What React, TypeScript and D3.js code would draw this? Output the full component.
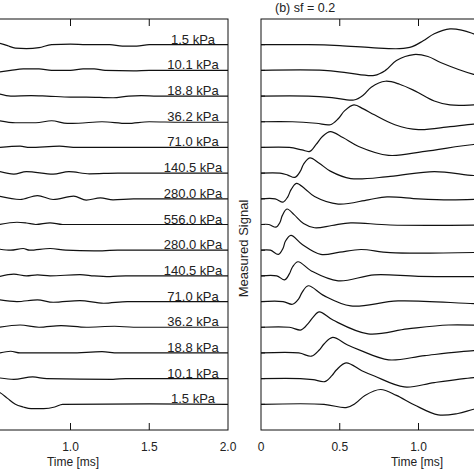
import React from "react";
import * as d3 from "d3";

// ---------- data ----------
const TIME_TICKS = [0, 0.5, 1.0, 1.5, 2.0];
const TICK_LABELS = ["0", "0.5", "1.0", "1.5", "2.0"];
const PRESSURE_LABELS = [
  "1.5 kPa", "10.1 kPa", "18.8 kPa", "36.2 kPa", "71.0 kPa", "140.5 kPa", "280.0 kPa",
  "556.0 kPa", "280.0 kPa", "140.5 kPa", "71.0 kPa", "36.2 kPa", "18.8 kPa", "10.1 kPa", "1.5 kPa",
];
const TRACE_OFFSET = 26; // signal units between stacked traces
const TITLE_B = "(b) sf = 0.2";
const Y_LABEL = "Measured Signal";
const X_LABEL = "Time [ms]";

// panel (a): [time ms, signal a.u.]
const SIGNAL_A: [number, number][][] = [
  [[0.55, 1.5], [0.6, -1], [0.65, -3.5], [0.72, -4], [0.8, -3], [0.88, 0], [1.0, 0.5], [1.1, 0], [1.25, 0], [1.33, -1.5], [1.42, -1.5], [1.5, 0], [2.0, 0]],
  [[0.55, -1.5], [0.62, 0], [0.7, 1.5], [0.8, 1.5], [0.88, 0], [1.0, 0], [1.08, 1.5], [1.15, 1.5], [1.22, 0], [1.4, -0.5], [1.5, 0], [2.0, 0]],
  [[0.55, 2], [0.62, 0], [0.75, 0.5], [0.85, 0], [1.0, -1], [1.1, -1], [1.27, -1.7], [1.37, 0], [1.45, 0.5], [1.55, 0], [2.0, 0]],
  [[0.55, 1], [0.65, -1], [0.78, -1], [0.88, 1], [0.98, -1.7], [1.05, -1.5], [1.2, 0], [1.36, -1.7], [1.5, 0], [1.7, -0.5], [2.0, -0.5]],
  [[0.55, 0], [0.68, 1.3], [0.74, 0], [0.93, 1.3], [1.04, 0], [1.3, 0], [2.0, 0]],
  [[0.55, 1.5], [0.64, -1], [0.72, 1.5], [0.89, -1], [0.99, 1.5], [1.12, -0.7], [1.3, 0], [2.0, 0]],
  [[0.55, 2.5], [0.68, -0.7], [0.79, 3.3], [0.89, -0.7], [1.02, 2.7], [1.1, -1.3], [1.19, 1], [1.27, -1], [1.4, 0], [2.0, 0]],
  [[0.55, 0], [0.66, 2.3], [0.72, 1.5], [0.78, 0], [0.87, 1.7], [0.95, 0], [2.0, 0]],
  [[0.55, 1], [0.62, 0], [0.7, 1.7], [0.74, 0], [0.87, 1.7], [0.97, 0], [1.15, -0.7], [1.3, 0], [2.0, 0]],
  [[0.55, -0.5], [0.64, 1.7], [0.72, 0], [0.79, 1], [0.87, 0], [1.06, 1.3], [1.15, 0], [1.25, -0.7], [1.35, 0], [2.0, 0]],
  [[0.55, 1.7], [0.66, 0], [0.79, 1.7], [0.89, -0.7], [1.06, 1], [1.21, -1.7], [1.36, 0], [2.0, 0]],
  [[0.55, 0], [0.68, 2.3], [0.8, 0], [0.94, 1.7], [1.1, 0], [1.28, 1], [1.4, 0], [2.0, 0]],
  [[0.55, 0], [0.62, 1.7], [0.68, 0], [1.0, 0], [1.2, 1.3], [1.3, 0], [2.0, 0]],
  [[0.55, 0.7], [0.64, -0.7], [0.76, 1.7], [0.85, 0], [1.27, -0.7], [1.35, 0], [2.0, 0]],
  [[0.52, 14], [0.55, 12], [0.6, 6], [0.65, 0], [0.7, -2.7], [0.75, -4.3], [0.83, -4.3], [0.9, -2.7], [0.95, 0], [1.5, 0.5], [2.0, 0]],
];

// panel (b): [time ms, signal a.u.]
const SIGNAL_B: [number, number][][] = [
  [[0, 0], [0.3, 0], [0.5, -1], [0.7, -3], [0.88, -4], [0.96, -2], [1.03, 4], [1.1, 11], [1.2, 16], [1.28, 14.5], [1.35, 11], [1.45, 5]],
  [[0, 0], [0.4, 0], [0.55, -2.5], [0.72, -5], [0.79, 0], [0.86, 10], [0.97, 16], [1.06, 14], [1.14, 8], [1.35, -4], [1.45, -7]],
  [[0, 0], [0.3, 0], [0.45, -1.5], [0.59, -4], [0.65, 1], [0.7, 9], [0.79, 15], [0.88, 12], [0.98, 5], [1.1, -5], [1.2, -9], [1.35, -9], [1.45, -8]],
  [[0, 0], [0.2, 0], [0.35, -1.5], [0.44, -3], [0.49, 3], [0.53, 11], [0.59, 17], [0.65, 13], [0.72, 7], [0.85, -3], [1.0, -8], [1.2, -5], [1.35, -2.5], [1.45, -2]],
  [[0, 0], [0.18, 0], [0.26, -2.5], [0.31, -4], [0.35, 3], [0.39, 11], [0.44, 16], [0.52, 10], [0.62, 1], [0.81, -8], [1.04, -4], [1.35, 3], [1.45, 3]],
  [[0, 0], [0.12, 0], [0.17, -2], [0.215, -4.3], [0.25, 2], [0.27, 9], [0.31, 15.5], [0.37, 10], [0.44, 2], [0.57, -5.5], [0.82, -3.3], [1.1, 1.6], [1.35, -2.4], [1.45, -2.4]],
  [[0, 0], [0.09, 0], [0.14, -3.3], [0.17, 2], [0.19, 9], [0.225, 15.7], [0.28, 10], [0.34, 2.3], [0.49, -5.3], [0.68, -1], [0.8, 2], [1.0, 0], [1.2, -1], [1.45, 0]],
  [[0, 0], [0.05, 0], [0.095, -2.7], [0.12, 2], [0.135, 9], [0.165, 15.7], [0.21, 10], [0.27, 1], [0.34, -3.3], [0.45, -1], [0.57, 1.7], [0.82, -0.5], [1.45, -0.5]],
  [[0, 0], [0.06, 0], [0.11, -4.3], [0.14, 2], [0.155, 9], [0.19, 15], [0.26, 6], [0.38, -4.3], [0.5, -2], [0.635, 0.7], [0.82, -2.5], [1.45, -2]],
  [[0, 0], [0.1, 0], [0.15, -4], [0.18, 2], [0.2, 9], [0.235, 14.3], [0.32, 5], [0.49, -5], [0.72, 1], [1.0, -0.5], [1.45, -0.7]],
  [[0, 0], [0.14, 0], [0.2, -2.7], [0.24, 3], [0.26, 9], [0.3, 16], [0.4, 6], [0.57, -4.4], [0.87, 0.6], [1.35, -2], [1.45, -2]],
  [[0, 0], [0.18, 0], [0.255, -2.7], [0.3, 4], [0.33, 10], [0.37, 15.6], [0.46, 7], [0.68, -6.7], [0.93, -1.7], [1.19, 2.3], [1.45, 1.5]],
  [[0, 0], [0.24, 0], [0.32, -3.3], [0.37, 3], [0.4, 9], [0.455, 15.7], [0.55, 8], [0.635, 2.3], [0.81, -7], [1.04, -2.7], [1.35, 2.3], [1.45, 2.5]],
  [[0, 0], [0.25, 0], [0.33, -1], [0.405, -3], [0.45, 3], [0.48, 9], [0.54, 16], [0.64, 8], [0.72, 2.6], [0.91, -8.4], [1.1, -4], [1.35, 1], [1.45, 2]],
  [[0, 0], [0.4, 0], [0.54, -3.3], [0.6, 1], [0.66, 9], [0.76, 15], [0.86, 9], [0.975, -0.7], [1.125, -10.7], [1.25, -9.3], [1.35, -5], [1.45, -2]],
];

// ---------- layout ----------
const W = 474;
const H = 474;
const TOP = 19;
const BOTTOM = 430;
const A_RIGHT = 228;
const B_LEFT = 261;
const PX_PER_MS = 157.5;
const FONT = "'Liberation Sans', Arial, Helvetica, sans-serif";
const INK = "#111";
const TEXT = "#222";

export default function App() {
  const n = SIGNAL_B.length;
  const xA = d3.scaleLinear().domain([0, 2]).range([A_RIGHT - 2 * PX_PER_MS, A_RIGHT]);
  const xB = d3.scaleLinear().domain([0, 2]).range([B_LEFT, B_LEFT + 2 * PX_PER_MS]);
  const y = d3.scaleLinear().domain([0, (n + 1) * TRACE_OFFSET]).range([BOTTOM, TOP]);
  const base = (i: number) => (n - i) * TRACE_OFFSET;

  const lineFor = (x: d3.ScaleLinear<number, number>, i: number, curve: d3.CurveFactory) =>
    d3
      .line<[number, number]>()
      .x((d) => x(d[0]))
      .y((d) => y(base(i) + d[1]))
      .curve(curve);

  const frameA = { x0: xA(0), x1: xA(2) };
  const frameB = { x0: xB(0), x1: xB(2) };

  const tickLabel = (x: d3.ScaleLinear<number, number>, key: string) =>
    TIME_TICKS.map((t, k) =>
      x(t) > 4 && x(t) < W - 4 ? (
        <text key={key + k} x={x(t)} y={451} textAnchor="middle" fontSize={12} fill={TEXT} fontFamily={FONT}>
          {TICK_LABELS[k]}
        </text>
      ) : null
    );

  const ticks = (x: d3.ScaleLinear<number, number>, key: string) =>
    TIME_TICKS.slice(1, -1).map((t, k) => (
      <g key={key + k}>
        <line x1={x(t)} x2={x(t)} y1={TOP} y2={TOP + 7} stroke={INK} strokeWidth={1} />
        <line x1={x(t)} x2={x(t)} y1={BOTTOM} y2={BOTTOM - 7} stroke={INK} strokeWidth={1} />
      </g>
    ));

  return (
    <svg width={W} height={H} style={{ position: "absolute", left: 0, top: 0, background: "#fff" }}>
      <defs>
        <clipPath id="clipA">
          <rect x={frameA.x0} y={TOP} width={frameA.x1 - frameA.x0} height={BOTTOM - TOP} />
        </clipPath>
        <clipPath id="clipB">
          <rect x={frameB.x0} y={TOP} width={frameB.x1 - frameB.x0} height={BOTTOM - TOP} />
        </clipPath>
      </defs>
      <rect x={0} y={0} width={W} height={H} fill="#fff" />

      {/* panel (a) */}
      <g clipPath="url(#clipA)">
        {SIGNAL_A.map((s, i) => (
          <path key={"a" + i} d={lineFor(xA, i, d3.curveMonotoneX)(s) || ""} fill="none" stroke={INK} strokeWidth={1.2} />
        ))}
      </g>
      {PRESSURE_LABELS.map((lab, i) => (
        <text key={"l" + i} x={193} y={y(base(i)) - 1} textAnchor="middle" fontSize={13} fill={TEXT} fontFamily={FONT}>
          {lab}
        </text>
      ))}
      <rect x={frameA.x0} y={TOP} width={frameA.x1 - frameA.x0} height={BOTTOM - TOP} fill="none" stroke={INK} strokeWidth={1} />
      {ticks(xA, "ta")}
      {tickLabel(xA, "la")}
      <text x={73} y={466} textAnchor="middle" fontSize={12} fill={TEXT} fontFamily={FONT}>
        {X_LABEL}
      </text>

      {/* panel (b) */}
      <g clipPath="url(#clipB)">
        {SIGNAL_B.map((s, i) => (
          <path key={"b" + i} d={lineFor(xB, i, d3.curveCatmullRom.alpha(0.5))(s) || ""} fill="none" stroke={INK} strokeWidth={1.2} />
        ))}
      </g>
      <rect x={frameB.x0} y={TOP} width={frameB.x1 - frameB.x0} height={BOTTOM - TOP} fill="none" stroke={INK} strokeWidth={1} />
      {ticks(xB, "tb")}
      {SIGNAL_B.map((_, i) => (
        <line key={"yt" + i} x1={frameB.x0} x2={frameB.x0 + 4} y1={y(base(i))} y2={y(base(i))} stroke={INK} strokeWidth={1} />
      ))}
      {tickLabel(xB, "lb")}
      <text x={417} y={466} textAnchor="middle" fontSize={12} fill={TEXT} fontFamily={FONT}>
        {X_LABEL}
      </text>
      <text x={275} y={12} fontSize={12.5} fill={TEXT} fontFamily={FONT}>
        {TITLE_B}
      </text>
      <text
        transform={`translate(248, ${(TOP + BOTTOM) / 2 + 24}) rotate(-90)`}
        textAnchor="middle"
        fontSize={13}
        fill={TEXT}
        fontFamily={FONT}
      >
        {Y_LABEL}
      </text>
    </svg>
  );
}
